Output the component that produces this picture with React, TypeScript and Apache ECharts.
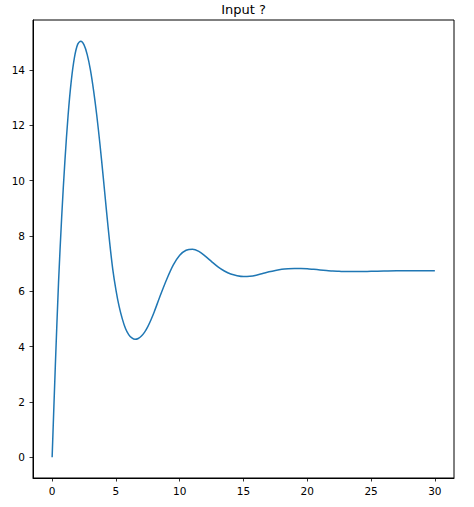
import React, { useEffect, useRef } from "react";
import * as echarts from "echarts";

const xValues = [
  0, 0.25, 0.5, 0.75, 1.0, 1.25, 1.5, 1.75, 2.0, 2.25, 2.5, 2.75, 3.0, 3.25, 3.5, 3.75,
  4.0, 4.25, 4.5, 4.75, 5.0, 5.25, 5.5, 5.75, 6.0, 6.25, 6.5, 6.75, 7.0, 7.25, 7.5, 7.75,
  8.0, 8.5, 9.0, 9.5, 10.0, 10.5, 11.0, 11.5, 12.0, 12.5, 13.0, 13.5, 14.0, 14.5, 15.0,
  15.5, 16.0, 16.5, 17.0, 17.5, 18.0, 18.5, 19.0, 19.5, 20.0, 20.5, 21.0, 21.5, 22.0,
  22.5, 23.0, 23.5, 24.0, 25.0, 26.0, 27.0, 28.0, 29.0, 30.0,
];
const yValues = [
  0, 3.3, 6.3, 8.7, 10.7, 12.35, 13.6, 14.45, 14.92, 15.03, 14.9, 14.55, 14.0, 13.25, 12.35, 11.3,
  10.15, 8.95, 7.8, 6.8, 6.05, 5.45, 5.0, 4.65, 4.43, 4.31, 4.26, 4.29, 4.38, 4.52, 4.72, 4.97,
  5.25, 5.87, 6.45, 6.95, 7.3, 7.48, 7.52, 7.44, 7.27, 7.07, 6.88, 6.73, 6.62, 6.56, 6.53,
  6.54, 6.58, 6.64, 6.7, 6.75, 6.79, 6.81, 6.82, 6.82, 6.81, 6.79, 6.77, 6.75, 6.73,
  6.72, 6.71, 6.71, 6.71, 6.72, 6.73, 6.74, 6.74, 6.74, 6.74,
];
const xTicks = [0, 5, 10, 15, 20, 25, 30];
const yTicks = [0, 2, 4, 6, 8, 10, 12, 14];
const titleText = "Input ?";

export default function App() {
  const ref = useRef<HTMLDivElement>(null);
  useEffect(() => {
    if (!ref.current) return;
    const chart = echarts.init(ref.current, null, { renderer: "svg" });
    const font = "DejaVu Sans";
    chart.setOption({
      animation: false,
      backgroundColor: "#ffffff",
      textStyle: { fontFamily: font },
      grid: {
        left: 33,
        right: 20,
        top: 20,
        bottom: 29,
        show: true,
        borderColor: "#000000",
        borderWidth: 1,
        containLabel: false,
      },
      graphic: [
        {
          type: "text",
          x: 243.5,
          y: 3,
          style: {
            text: titleText,
            fill: "#000000",
            font: `13px ${font}`,
            textAlign: "center",
            textVerticalAlign: "top",
          },
        },
      ],
      xAxis: {
        type: "value",
        min: -1.5,
        max: 31.5,
        axisLine: { show: true, onZero: false, lineStyle: { color: "#000000", width: 1 } },
        axisTick: {
          show: true,
          customValues: xTicks,
          length: 3.5,
          lineStyle: { color: "#000000", width: 0.8 },
        },
        axisLabel: {
          customValues: xTicks,
          color: "#000000",
          fontSize: 10.5,
          fontFamily: font,
          margin: 7,
          hideOverlap: false,
        },
        splitLine: { show: false },
      },
      yAxis: {
        type: "value",
        min: -0.75,
        max: 15.8,
        axisLine: { show: true, onZero: false, lineStyle: { color: "#000000", width: 1 } },
        axisTick: {
          show: true,
          customValues: yTicks,
          length: 3.5,
          lineStyle: { color: "#000000", width: 0.8 },
        },
        axisLabel: {
          customValues: yTicks,
          color: "#000000",
          fontSize: 10.5,
          fontFamily: font,
          margin: 8,
          hideOverlap: false,
        },
        splitLine: { show: false },
      },
      series: [
        {
          type: "line",
          data: xValues.map((x, i) => [x, yValues[i]]),
          showSymbol: false,
          smooth: 0.3,
          lineStyle: { color: "#1f77b4", width: 1.5 },
          itemStyle: { color: "#1f77b4" },
        },
      ],
    });
    return () => chart.dispose();
  }, []);
  return (
    <div
      ref={ref}
      style={{ position: "fixed", left: 0, top: 0, width: 474, height: 507, background: "#fff" }}
    />
  );
}
